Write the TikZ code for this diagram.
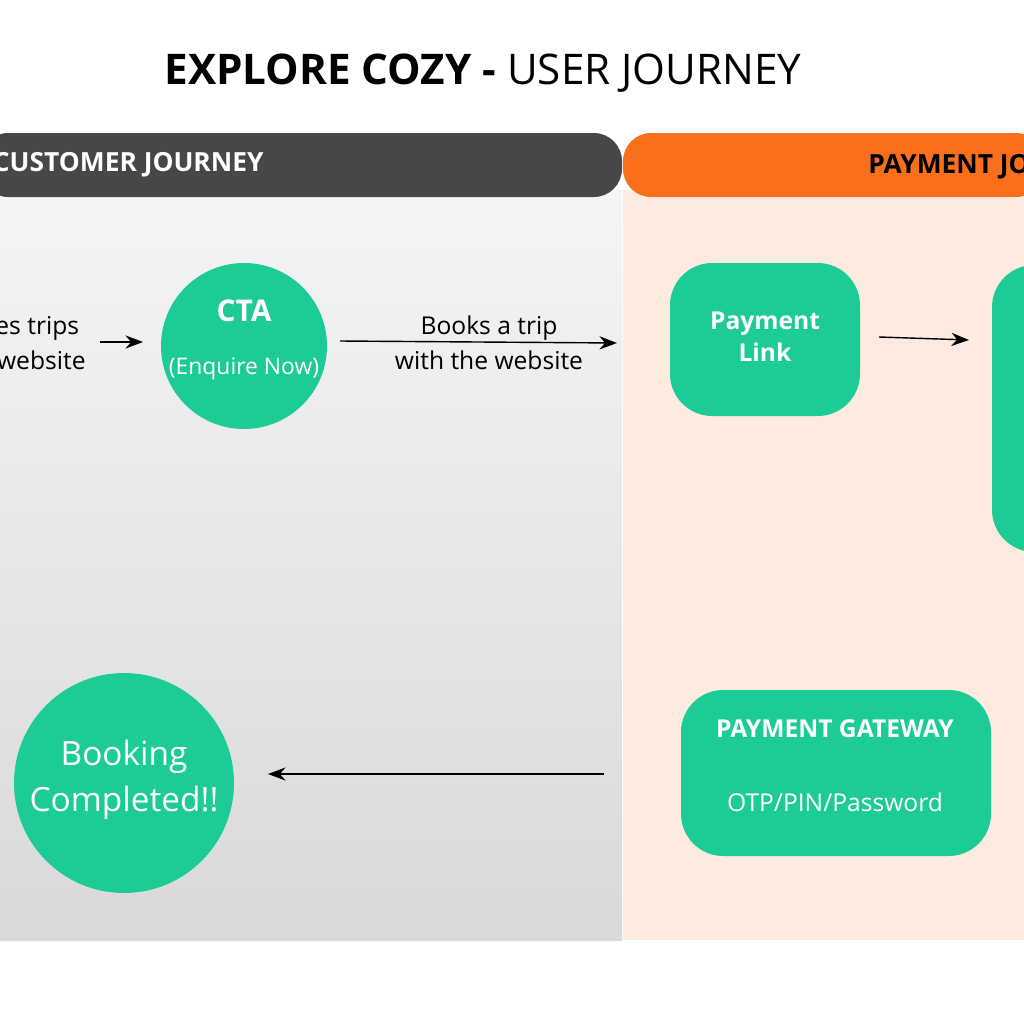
\documentclass[tikz,border=0pt]{standalone}
\usepackage{fontspec}
\setmainfont{Open Sans}
\usetikzlibrary{positioning,arrows.meta}
\definecolor{teal}{HTML}{1DCB97}
\definecolor{darkhead}{HTML}{474747}
\definecolor{orangehead}{HTML}{FA6F1C}
\definecolor{peach}{HTML}{FDEBE0}
\tikzset{
  step box/.style={fill=teal, rounded corners=12pt},
  flow/.style={-{Stealth[length=5pt]}, thin},
  label text/.style={font=\fontsize{7}{9}\selectfont, align=center},
}
\begin{document}
\begin{tikzpicture}[x=0.01cm, y=-0.01cm]
    \useasboundingbox (0, 0) rectangle (1024, 1024) ;
    \clip (0, 0) rectangle (1024, 1024) ;
    \fill[white] (0, 0) rectangle (1024, 1024) ;
    % title
    \node (title) at (483, 73) {\fontsize{12}{14}\selectfont\textbf{EXPLORE COZY -} USER JOURNEY} ;
    % panels
    \shade[top color=white!96!black, bottom color=white!85!black] (-20, 190) rectangle (622, 940) ;
    \fill[peach] (623, 190) rectangle (1044, 940) ;
    \fill[darkhead, rounded corners=8pt] (-20, 133) rectangle (622, 197) ;
    \fill[orangehead, rounded corners=8pt] (623, 133) rectangle (1044, 197) ;
    \node[text=white, anchor=east, font=\fontsize{7.5}{9}\selectfont\bfseries] (custhead) at (276, 165) {CUSTOMER JOURNEY} ;
    \node[anchor=west, font=\fontsize{7.5}{9}\selectfont\bfseries] (payhead) at (856, 167) {PAYMENT JOURNEY} ;
    % nodes
    \node[label text, anchor=east] (explore) at (98, 343) {Explores trips\\[1pt]on the website} ;
    \fill[teal] (244, 346) circle (83) ;
    \node[text=white, align=center] (cta) at (244, 340) {\fontsize{8.5}{10}\selectfont\bfseries CTA\\[3pt] \fontsize{6.5}{8}\selectfont(Enquire Now)} ;
    \node[label text] (books) at (489, 343) {Books a trip\\[1pt]with the website} ;
    \fill[step box] (670, 263) rectangle (860, 416) ;
    \node[text=white, align=center, font=\fontsize{7}{9}\selectfont\bfseries] (link) at (765, 337) {Payment\\Link} ;
    \fill[step box] (992, 265) rectangle (1100, 552) ;
    \coordinate (next) at (969, 340) ;
    \fill[step box] (681, 690) rectangle (991, 856) ;
    \node[text=white, align=center] (gateway) at (835, 766) {\fontsize{7}{9}\selectfont\bfseries PAYMENT GATEWAY\\[9pt]\fontsize{7}{9}\selectfont OTP/PIN/Password} ;
    \fill[teal] (124, 783) circle (110) ;
    \node[text=white, align=center, font=\fontsize{9.5}{13}\selectfont] (done) at (124, 780) {Booking\\Completed!!} ;
    % connectors
    \coordinate (a1) at (100, 342) ; \coordinate (a2) at (143, 342) ;
    \draw[flow] (a1) -- (a2) ;
    \coordinate (b1) at (340, 341) ; \coordinate (b2) at (617, 343) ;
    \draw[flow] (b1) -- (b2) ;
    \coordinate (c1) at (879, 337) ;
    \draw[flow] (c1) -- (next) ;
    \coordinate (d1) at (604, 774) ; \coordinate (d2) at (268, 774) ;
    \draw[flow] (d1) -- (d2) ;
\end{tikzpicture}
\end{document}
